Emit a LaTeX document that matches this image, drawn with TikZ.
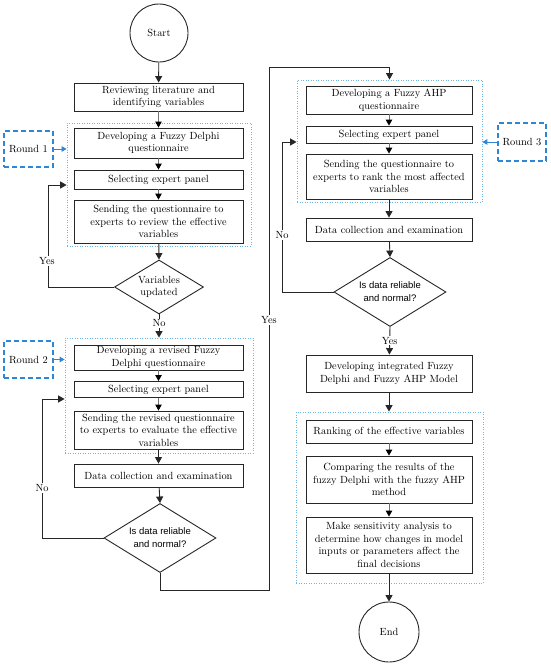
\documentclass[tikz,border=0pt]{standalone}
\usepackage{fontspec}
\newfontfamily\diafont{Liberation Sans}
\usetikzlibrary{arrows.meta,shapes.geometric}
\definecolor{rblue}{HTML}{2E86D6}
\definecolor{gblue}{HTML}{6BB5E8}
\begin{document}
\begin{tikzpicture}[x=1pt,y=-1pt,
  every node/.style={font=\fontsize{10.4}{12.6}\selectfont},
  box/.style={draw=black!85,line width=0.9pt,rectangle,align=center,inner sep=0pt},
  lbox/.style={box,minimum width=169pt},
  rbox/.style={box,minimum width=166pt},
  grp/.style={draw=gblue,dash pattern=on 1pt off 1.5pt,line width=0.8pt,rectangle,inner sep=0pt},
  rnd/.style={draw=rblue,dash pattern=on 5pt off 3pt,line width=1.2pt,rectangle,inner sep=0pt,minimum width=49pt},
  circ/.style={draw=black!85,line width=0.9pt,circle,inner sep=0pt},
  dia/.style={draw=black!85,line width=0.9pt,diamond,inner sep=0pt},
  dtxt/.style={align=center,inner sep=0pt},
  arr/.style={draw=black!85,line width=0.9pt,-{Triangle[length=6.5pt,width=7pt]}},
  inarr/.style={draw=black!55,line width=0.9pt,-{Triangle[length=6pt,width=6.5pt,fill=black,color=black]}},
  barr/.style={draw=rblue,line width=1pt,-{Triangle[length=5pt,width=5.5pt]}},
  lab/.style={fill=white,inner sep=1pt}
]
\useasboundingbox (0,0) rectangle (550,665);

% ---------- left column ----------
\node[circ,minimum size=58pt] (start) at (159,33) {Start};
\node[lbox,minimum height=28pt] (b1) at (158.5,97) {Reviewing literature and\\identifying variables};
\node[grp,minimum width=184pt,minimum height=123pt] (g1) at (159,184.5) {};
\node[lbox,minimum height=30pt] (b2) at (158.5,143) {Developing a Fuzzy Delphi\\questionnaire};
\node[lbox,minimum height=19pt] (b3) at (158.5,179.5) {Selecting expert panel};
\node[lbox,minimum height=43pt] (b4) at (158.5,221.5) {Sending the questionnaire to\\experts to review the effective\\variables};
\node[dia,minimum width=89pt,minimum height=54pt] (d1) at (159,287) {};
\node[dtxt] (d1t) at (159,287) {Variables\\updated};

\node[grp,minimum width=188pt,minimum height=115pt] (g2) at (159,395.5) {};
\node[lbox,minimum height=25pt] (b5) at (158.5,357.5) {Developing a revised Fuzzy\\Delphi questionnaire};
\node[lbox,minimum height=16pt] (b6) at (158.5,389.5) {Selecting expert panel};
\node[lbox,minimum height=38pt] (b7) at (158.5,430) {Sending the revised questionnaire\\to experts to evaluate the effective\\variables};
\node[lbox,minimum height=23pt] (b8) at (158.5,475.5) {Data collection and examination};
\node[dia,minimum width=112pt,minimum height=69pt] (d2) at (160,538) {};
\node[dtxt,font=\diafont\fontsize{9.5}{13}\selectfont] (d2t) at (160,538) {Is data reliable\\and normal?};

\node[rnd,minimum height=36pt] (r1) at (28.5,149) {Round 1};
\node[rnd,minimum height=37pt] (r2) at (28.5,359.5) {Round 2};

% ---------- right column ----------
\node[grp,minimum width=185pt,minimum height=122pt] (g3) at (389.5,141) {};
\node[rbox,minimum height=28pt] (c1) at (389,100) {Developing a Fuzzy AHP\\questionnaire};
\node[rbox,minimum height=17pt] (c2) at (389,134.5) {Selecting expert panel};
\node[rbox,minimum height=45pt] (c3) at (389,176.5) {Sending the questionnaire to\\experts to rank the most affected\\variables};
\node[rbox,minimum height=23pt] (c4) at (389,229.5) {Data collection and examination};
\node[dia,minimum width=112pt,minimum height=69pt] (d3) at (390,292) {};
\node[dtxt,font=\diafont\fontsize{9.5}{13}\selectfont] (d3t) at (390,292) {Is data reliable\\and normal?};
\node[rbox,minimum height=37pt] (c5) at (389,373.5) {Developing integrated Fuzzy\\Delphi and Fuzzy AHP Model};

\node[grp,minimum width=187pt,minimum height=171pt] (g4) at (389.5,497.5) {};
\node[rbox,minimum height=23pt] (c6) at (389,431.5) {Ranking of the effective variables};
\node[rbox,minimum height=47pt] (c7) at (389,479.5) {Comparing the results of the\\fuzzy Delphi with the fuzzy AHP\\method};
\node[rbox,minimum height=56pt] (c8) at (389,545) {Make sensitivity analysis to\\determine how changes in model\\inputs or parameters affect the\\final decisions};
\node[circ,minimum size=60pt] (end) at (389,632) {End};

\node[rnd,minimum width=48pt,minimum height=38pt] (r3) at (522,142) {Round 3};

% ---------- connectors ----------
\draw[arr] (start) -- (b1);
\draw[inarr] (b1) -- (b2);
\draw[inarr] (b2) -- (b3);
\draw[inarr] (b3) -- (b4);
\draw[arr] (b4) -- (d1.north);
\draw[arr] (d1.south) -- (g2.north -| d1.south) node[lab,pos=0.38] (lno1) {No};
\coordinate (k1) at (48,185);
\draw[arr] (d1.west) -| (k1) -- (g1.west |- k1);
\node[lab] (lyes1) at (47,261) {Yes};

\draw[inarr] (b5) -- (b6);
\draw[inarr] (b6) -- (b7);
\draw[arr] (b7) -- (b8);
\draw[arr] (b8) -- (d2.north);
\coordinate (k2) at (42,399);
\draw[arr] (d2.west) -| (k2) -- (g2.west |- k2);
\node[lab] (lno2) at (42,488) {No};

\coordinate (k3) at (160,590);
\coordinate (k4) at (269,67);
\draw[arr] (d2.south) -- (k3) -| (k4) -| (g3.north);
\node[lab] (lyes2) at (269,320) {Yes};

\draw[inarr] (c1) -- (c2);
\draw[inarr] (c2) -- (c3);
\draw[arr] (c3) -- (c4);
\draw[arr] (c4) -- (d3.north);
\coordinate (k5) at (282,142);
\draw[arr] (d3.west) -| (k5) -- (g3.west |- k5);
\node[lab] (lno3) at (282,235) {No};
\draw[arr] (d3.south) -- (c5) node[lab,pos=0.5] (lyes3) {Yes};
\draw[arr] (c5) -- (g4.north -| c5.south);
\draw[inarr] (c6) -- (c7);
\draw[inarr] (c7) -- (c8);
\draw[arr] (c8) -- (end);

\draw[barr] (r1) -- (g1.west |- r1);
\draw[barr] (r2) -- (g2.west |- r2);
\draw[barr] (r3) -- (g3.east |- r3);
\end{tikzpicture}
\end{document}
